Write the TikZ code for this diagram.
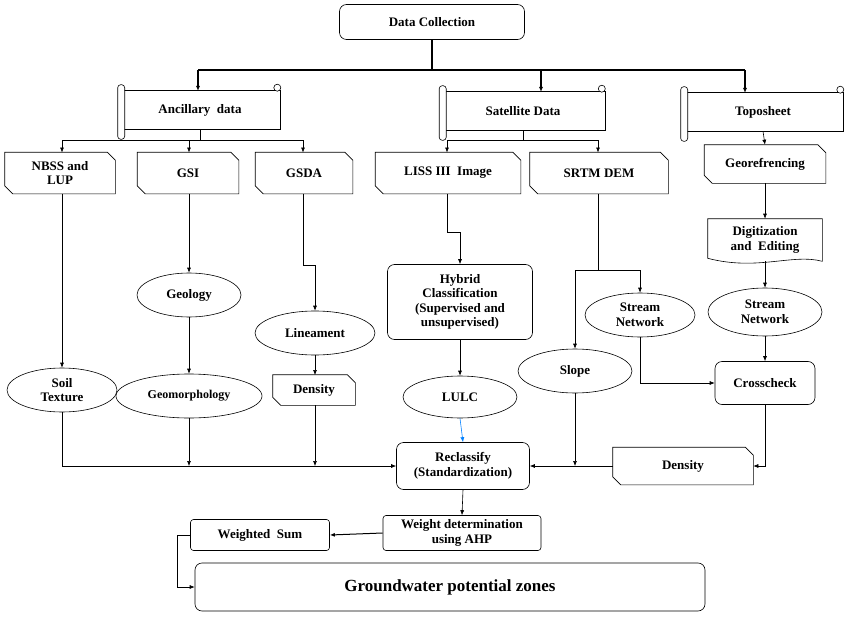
\documentclass[tikz,border=0pt]{standalone}
\usepackage{fontspec}
\setmainfont{Liberation Serif}
\usetikzlibrary{arrows.meta,shapes.geometric,calc}
\newcommand{\cardline}[1]{\draw (#1.north west) -- ([xshift=-8pt]#1.north east) -- ([yshift=-8pt]#1.north east) -- (#1.south east) -- ([xshift=8pt]#1.south west) -- ([yshift=8pt]#1.south west) -- cycle;}
\newcommand{\scrollline}[1]{\draw (#1.north west) rectangle (#1.south east);
 \draw[fill=white,rounded corners=3pt] ([xshift=-2pt,yshift=6pt]#1.north west) rectangle ([xshift=5pt,yshift=-10pt]#1.south west);
 \draw[fill=white] ([xshift=-3pt,yshift=3pt]#1.north east) circle (3.5pt);}
\begin{document}
\begin{tikzpicture}[x=1pt,y=-1pt,line width=0.6pt,
 every node/.style={font=\bfseries\fontsize{13}{14.5}\selectfont,align=center,inner sep=1pt},
 rbox/.style={draw,rounded corners=7pt},
 ell/.style={draw,ellipse,inner sep=0pt},
 arr/.style={-{Latex[length=5pt,width=4pt]}}]
\useasboundingbox[fill=white] (0,0) rectangle (852,618);
% nodes
\node[rbox,minimum width=185,minimum height=35] (dc) at (432,22) {Data Collection};
\node[minimum width=160,minimum height=38] (anc) at (200,110) {Ancillary\ \ data};
\node[minimum width=163,minimum height=38] (sat) at (523,111) {Satellite Data};
\node[minimum width=160,minimum height=38] (top) at (763,112) {Toposheet};
\node[minimum width=110,minimum height=41] (nbss) at (60,173) {NBSS and\\LUP};
\node[minimum width=101,minimum height=41] (gsi) at (188,173) {GSI};
\node[minimum width=97,minimum height=41] (gsda) at (304,173) {GSDA};
\node[minimum width=145,minimum height=41] (liss) at (448,173) {LISS III\ \ Image};
\node[minimum width=138,minimum height=41] (srtm) at (599,173) {SRTM DEM};
\node[minimum width=121,minimum height=38] (geo) at (765,164) {Georefrencing};
\node[minimum width=114,minimum height=42] (dig) at (765,240) {Digitization\\and\ \ Editing};
\node[ell,minimum width=110,minimum height=44] (soil) at (62,390) {Soil\\Texture};
\node[ell,minimum width=104,minimum height=44] (geol) at (189,295) {Geology};
\node[ell,minimum width=146,minimum height=44,font=\bfseries\fontsize{12}{13}\selectfont] (geom) at (189,396) {Geomorphology};
\node[ell,minimum width=120,minimum height=44] (lin) at (315,333) {Lineament};
\node[minimum width=82,minimum height=30] (den1) at (314,390) {Density};
\node[rbox,minimum width=145,minimum height=75] (hyb) at (460,302) {Hybrid\\Classification\\(Supervised and\\unsupervised)};
\node[ell,minimum width=114,minimum height=42] (lulc) at (460,397) {LULC};
\node[ell,minimum width=110,minimum height=44] (sn1) at (640,315) {Stream\\Network};
\node[ell,minimum width=114,minimum height=44] (slope) at (575,371) {Slope};
\node[ell,minimum width=114,minimum height=48] (sn2) at (765,312) {Stream\\Network};
\node[rbox,minimum width=100,minimum height=43] (cc) at (765,383) {Crosscheck};
\node[minimum width=140,minimum height=37] (den2) at (683,466) {Density};
\node[rbox,minimum width=133,minimum height=47] (rec) at (463,466) {Reclassify\\(Standardization)};
\node[rbox,rounded corners=3pt,minimum width=158,minimum height=35] (wd) at (462,533) {Weight determination\\using AHP};
\node[rbox,rounded corners=3pt,minimum width=139,minimum height=31] (ws) at (260,535) {Weighted\ \ Sum};
\node[rbox,minimum width=510,minimum height=48,font=\bfseries\fontsize{17}{19}\selectfont] (gw) at (450,587) {Groundwater potential zones};
% shapes
\scrollline{anc}\scrollline{sat}\scrollline{top}
\cardline{nbss}\cardline{gsi}\cardline{gsda}\cardline{liss}\cardline{srtm}\cardline{geo}\cardline{den1}\cardline{den2}
\draw (dig.north west) -- (dig.north east) -- (dig.south east) .. controls ($(dig.south east)+(-30,-8)$) and ($(dig.south west)+(50,10)$) .. ($(dig.south west)+(0,-3)$) -- cycle;
% connectors
\draw[line width=1.3pt] (dc.south) -- (432,70);
\draw[line width=1.3pt] (198,70) -- (745,70);
\draw[arr,line width=1.3pt] (198,70) -- (198,91);
\draw[arr,line width=1.3pt] (541,70) -- (541,92);
\draw[arr,line width=1.3pt] (745,70) -- (745,93);
\draw (anc.south) -- (200,140); \draw (62,140) -- (303,140);
\draw[arr] (62,140) -- (62,152.5);
\draw[arr] (189,140) -- (189,152.5);
\draw[arr] (303,140) -- (303,152.5);
\draw (sat.south) -- (523,140); \draw (447,140) -- (598,140);
\draw[arr] (447,140) -- (447,152.5);
\draw[arr] (598,140) -- (598,152.5);
\draw[arr] (top.south) -- (geo.north);
\draw[arr] (62,193.5) -- (soil.north);
\draw[arr] (189,193.5) -- (geol.north);
\draw[arr] (geol.south) -- (geom.north);
\draw[arr] (303,193.5) -- (303,265) -- (315,265) -- (lin.north);
\draw[arr] (lin.south) -- (315,375);
\draw[arr] (447,193.5) -- (447,232) -- (460,232) -- (hyb.north);
\draw[arr] (hyb.south) -- (lulc.north);
\draw[arr,draw=blue!50!cyan,color=blue!50!cyan] (lulc.south) -- (rec.north);
\draw (598,193.5) -- (598,270); \draw (575,270) -- (640,270);
\draw[arr] (640,270) -- (sn1.north);
\draw[arr] (575,270) -- (slope.north);
\draw[arr] (sn1.south) -- (640,383) -- (cc.west);
\draw[arr] (geo.south) -- (dig.north);
\draw[arr] (dig.south) -- (sn2.north);
\draw[arr] (sn2.south) -- (cc.north);
\draw[arr] (cc.south) -- (765,466) -- (den2.east);
\draw[arr] (den2.west) -- (rec.east);
\draw[arr] (slope.south) -- (575,466);
\draw (soil.south) -- (62,466);
\draw[arr] (62,466) -- (rec.west);
\draw[arr] (geom.south) -- (189,466);
\draw[arr] (315,405) -- (315,466);
\draw[arr] (rec.south) -- (wd.north);
\draw[arr,line width=1pt] (wd.west) -- (ws.east);
\draw[arr] (ws.west) -- (177,535) -- (177,587) -- (gw.west);
\end{tikzpicture}
\end{document}
